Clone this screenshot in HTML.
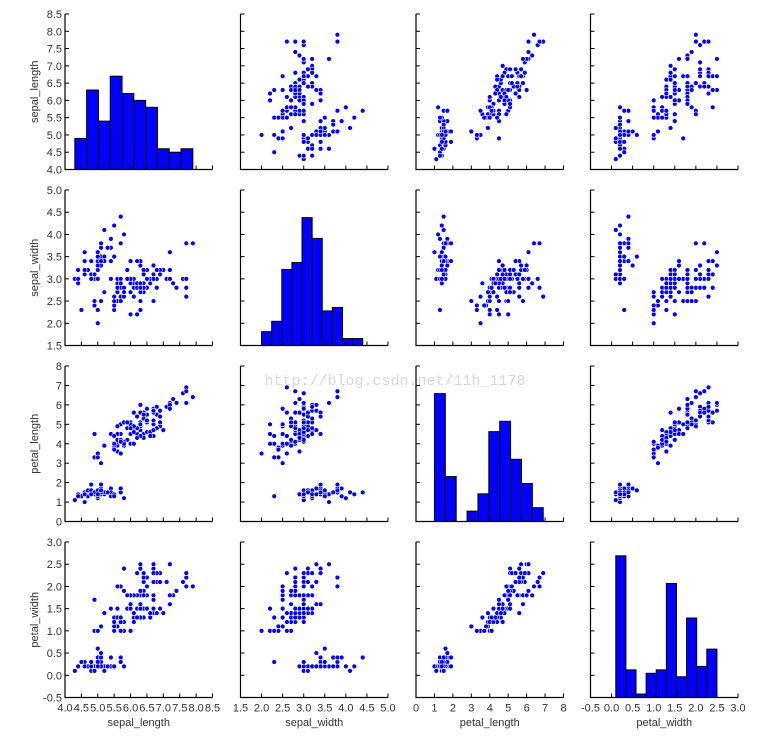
<!DOCTYPE html>
<html><head><meta charset="utf-8"><style>
html,body{margin:0;padding:0;background:#fff}
svg{display:block;font-family:"Liberation Sans","DejaVu Sans",sans-serif}
</style></head><body>
<svg id="chart" width="770" height="738" viewBox="0 0 770 738" xmlns="http://www.w3.org/2000/svg">
<text x="395" y="385" font-size="15" fill="#d8d8d8" text-anchor="middle" font-family="Liberation Mono, monospace">http://blog.csdn.net/11h_1178</text>
</svg>
<script>
const varNames = ["sepal_length","sepal_width","petal_length","petal_width"];
const axisMin = [4.0, 1.5, 0, -0.5];
const axisMax = [8.5, 5.0, 8, 3.0];
const tickLabels = [
 ["4.0","4.5","5.0","5.5","6.0","6.5","7.0","7.5","8.0","8.5"],
 ["1.5","2.0","2.5","3.0","3.5","4.0","4.5","5.0"],
 ["0","1","2","3","4","5","6","7","8"],
 ["-0.5","0.0","0.5","1.0","1.5","2.0","2.5","3.0"]
];
const histCounts = [
 [9,23,14,27,22,20,18,6,5,6],
 [4,7,22,24,37,31,10,11,2,2],
 [37,13,0,3,8,26,29,18,11,4],
 [41,8,1,7,8,33,6,23,9,14]
];
const histMin = [4.3, 2.0, 1.0, 0.1];
const histMax = [7.9, 4.4, 6.9, 2.5];
const histTop = 45;
const iris = [
[5.1,3.5,1.4,0.2],[4.9,3.0,1.4,0.2],[4.7,3.2,1.3,0.2],[4.6,3.1,1.5,0.2],[5.0,3.6,1.4,0.2],
[5.4,3.9,1.7,0.4],[4.6,3.4,1.4,0.3],[5.0,3.4,1.5,0.2],[4.4,2.9,1.4,0.2],[4.9,3.1,1.5,0.1],
[5.4,3.7,1.5,0.2],[4.8,3.4,1.6,0.2],[4.8,3.0,1.4,0.1],[4.3,3.0,1.1,0.1],[5.8,4.0,1.2,0.2],
[5.7,4.4,1.5,0.4],[5.4,3.9,1.3,0.4],[5.1,3.5,1.4,0.3],[5.7,3.8,1.7,0.3],[5.1,3.8,1.5,0.3],
[5.4,3.4,1.7,0.2],[5.1,3.7,1.5,0.4],[4.6,3.6,1.0,0.2],[5.1,3.3,1.7,0.5],[4.8,3.4,1.9,0.2],
[5.0,3.0,1.6,0.2],[5.0,3.4,1.6,0.4],[5.2,3.5,1.5,0.2],[5.2,3.4,1.4,0.2],[4.7,3.2,1.6,0.2],
[4.8,3.1,1.6,0.2],[5.4,3.4,1.5,0.4],[5.2,4.1,1.5,0.1],[5.5,4.2,1.4,0.2],[4.9,3.1,1.5,0.1],
[5.0,3.2,1.2,0.2],[5.5,3.5,1.3,0.2],[4.9,3.1,1.5,0.1],[4.4,3.0,1.3,0.2],[5.1,3.4,1.5,0.2],
[5.0,3.5,1.3,0.3],[4.5,2.3,1.3,0.3],[4.4,3.2,1.3,0.2],[5.0,3.5,1.6,0.6],[5.1,3.8,1.9,0.4],
[4.8,3.0,1.4,0.3],[5.1,3.8,1.6,0.2],[4.6,3.2,1.4,0.2],[5.3,3.7,1.5,0.2],[5.0,3.3,1.4,0.2],
[7.0,3.2,4.7,1.4],[6.4,3.2,4.5,1.5],[6.9,3.1,4.9,1.5],[5.5,2.3,4.0,1.3],[6.5,2.8,4.6,1.5],
[5.7,2.8,4.5,1.3],[6.3,3.3,4.7,1.6],[4.9,2.4,3.3,1.0],[6.6,2.9,4.6,1.3],[5.2,2.7,3.9,1.4],
[5.0,2.0,3.5,1.0],[5.9,3.0,4.2,1.5],[6.0,2.2,4.0,1.0],[6.1,2.9,4.7,1.4],[5.6,2.9,3.6,1.3],
[6.7,3.1,4.4,1.4],[5.6,3.0,4.5,1.5],[5.8,2.7,4.1,1.0],[6.2,2.2,4.5,1.5],[5.6,2.5,3.9,1.1],
[5.9,3.2,4.8,1.8],[6.1,2.8,4.0,1.3],[6.3,2.5,4.9,1.5],[6.1,2.8,4.7,1.2],[6.4,2.9,4.3,1.3],
[6.6,3.0,4.4,1.4],[6.8,2.8,4.8,1.4],[6.7,3.0,5.0,1.7],[6.0,2.9,4.5,1.5],[5.7,2.6,3.5,1.0],
[5.5,2.4,3.8,1.1],[5.5,2.4,3.7,1.0],[5.8,2.7,3.9,1.2],[6.0,2.7,5.1,1.6],[5.4,3.0,4.5,1.5],
[6.0,3.4,4.5,1.6],[6.7,3.1,4.7,1.5],[6.3,2.3,4.4,1.3],[5.6,3.0,4.1,1.3],[5.5,2.5,4.0,1.3],
[5.5,2.6,4.4,1.2],[6.1,3.0,4.6,1.4],[5.8,2.6,4.0,1.2],[5.0,2.3,3.3,1.0],[5.6,2.7,4.2,1.3],
[5.7,3.0,4.2,1.2],[5.7,2.9,4.2,1.3],[6.2,2.9,4.3,1.3],[5.1,2.5,3.0,1.1],[5.7,2.8,4.1,1.3],
[6.3,3.3,6.0,2.5],[5.8,2.7,5.1,1.9],[7.1,3.0,5.9,2.1],[6.3,2.9,5.6,1.8],[6.5,3.0,5.8,2.2],
[7.6,3.0,6.6,2.1],[4.9,2.5,4.5,1.7],[7.3,2.9,6.3,1.8],[6.7,2.5,5.8,1.8],[7.2,3.6,6.1,2.5],
[6.5,3.2,5.1,2.0],[6.4,2.7,5.3,1.9],[6.8,3.0,5.5,2.1],[5.7,2.5,5.0,2.0],[5.8,2.8,5.1,2.4],
[6.4,3.2,5.3,2.3],[6.5,3.0,5.5,1.8],[7.7,3.8,6.7,2.2],[7.7,2.6,6.9,2.3],[6.0,2.2,5.0,1.5],
[6.9,3.2,5.7,2.3],[5.6,2.8,4.9,2.0],[7.7,2.8,6.7,2.0],[6.3,2.7,4.9,1.8],[6.7,3.3,5.7,2.1],
[7.2,3.2,6.0,1.8],[6.2,2.8,4.8,1.8],[6.1,3.0,4.9,1.8],[6.4,2.8,5.6,2.1],[7.2,3.0,5.8,1.6],
[7.4,2.8,6.1,1.9],[7.9,3.8,6.4,2.0],[6.4,2.8,5.6,2.2],[6.3,2.8,5.1,1.5],[6.1,2.6,5.6,1.4],
[7.7,3.0,6.1,2.3],[6.3,3.4,5.6,2.4],[6.4,3.1,5.5,1.8],[6.0,3.0,4.8,1.8],[6.9,3.1,5.4,2.1],
[6.7,3.1,5.6,2.4],[6.9,3.1,5.1,2.3],[5.8,2.7,5.1,1.9],[6.8,3.2,5.9,2.3],[6.7,3.3,5.7,2.5],
[6.7,3.0,5.2,2.3],[6.3,2.5,5.0,1.9],[6.5,3.0,5.2,2.0],[6.2,3.4,5.4,2.3],[5.9,3.0,5.1,1.8]
];

const svg = document.getElementById('chart');
const NS = "http://www.w3.org/2000/svg";
const colLeft = [65, 240.5, 416, 590.5], panelW = 147.5;
const rowTop = [14, 190, 366, 542], panelH = 155.5;
function mk(tag, attrs, parent){const e=document.createElementNS(NS,tag);for(const k in attrs)e.setAttribute(k,attrs[k]);(parent||svg).appendChild(e);return e;}
function xScale(c,v){return colLeft[c]+(v-axisMin[c])/(axisMax[c]-axisMin[c])*panelW;}
function yScale(r,v){return rowTop[r]+panelH-(v-axisMin[r])/(axisMax[r]-axisMin[r])*panelH;}

for(let r=0;r<4;r++){for(let c=0;c<4;c++){
  const g=mk('g',{});
  
  
  const x0=colLeft[c], y0=rowTop[r], y1=y0+panelH, x1=x0+panelW;
  if(r===c){
    const n=histCounts[r].length, bw=(histMax[r]-histMin[r])/n;
    histCounts[r].forEach((cnt,i)=>{
      const a=xScale(c,histMin[r]+i*bw), b=xScale(c,histMin[r]+(i+1)*bw);
      const h=cnt/histTop*panelH;
      const rect=mk('rect',{x:a,y:y1-h,width:b-a,height:h,fill:'#0000ff',stroke:'#000','stroke-width':1},g);
      
      
    });
  } else {
    const pg=mk('g',{},g);
    
    
    iris.forEach(row=>{
      const cir=mk('circle',{cx:xScale(c,row[c]),cy:yScale(r,row[r]),r:2.4,fill:'#0000ff',stroke:'#fff','stroke-width':0.6},pg);
      
      
    });
  }
  // spines
  const sp=mk('path',{d:`M${x0},${y0}V${y1}H${x1}`,fill:'none',stroke:'#000','stroke-width':1.2},g);
  
  
  // y ticks
  tickLabels[r].forEach(t=>{
    const y=yScale(r,parseFloat(t));
    mk('line',{x1:x0,x2:x0+4,y1:y,y2:y,stroke:'#000','stroke-width':1},g);
    if(c===0){const tx=mk('text',{x:x0-3,y:y+4,'font-size':11,fill:'#333','text-anchor':'end'},g);tx.textContent=t;
      
      }
  });
  tickLabels[c].forEach(t=>{
    const x=xScale(c,parseFloat(t));
    mk('line',{x1:x,x2:x,y1:y1,y2:y1-4,stroke:'#000','stroke-width':1},g);
    if(r===3){const tx=mk('text',{x:x,y:y1+14,'font-size':11,fill:'#333','text-anchor':'middle'},g);tx.textContent=t;
      
      }
  });
}}
for(let i=0;i<4;i++){
  const yl=mk('text',{x:0,y:0,'font-size':11,fill:'#333','text-anchor':'middle',transform:`translate(38,${rowTop[i]+panelH/2}) rotate(-90)`});
  yl.textContent=varNames[i];
  
  
  const xl=mk('text',{x:colLeft[i]+panelW/2,y:726,'font-size':11,fill:'#333','text-anchor':'middle'});
  xl.textContent=varNames[i];
  
  
}
</script>
</body></html>
